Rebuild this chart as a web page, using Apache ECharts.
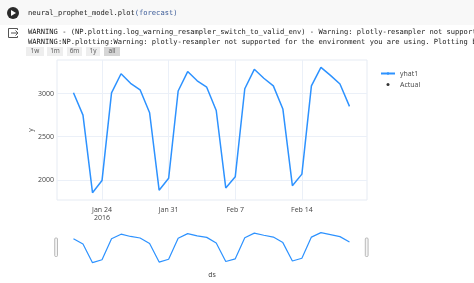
<!DOCTYPE html>
<html><head><meta charset="utf-8">
<script src="https://cdn.jsdelivr.net/npm/echarts@6/dist/echarts.min.js"></script>
<style>html,body{margin:0;padding:0;background:#fff}#c{width:474px;height:283px}</style>
</head><body><div id="c"></div>
<script>
const dates = ['2016-01-21','2016-01-22','2016-01-23','2016-01-24','2016-01-25','2016-01-26','2016-01-27','2016-01-28','2016-01-29','2016-01-30','2016-01-31',
  '2016-02-01','2016-02-02','2016-02-03','2016-02-04','2016-02-05','2016-02-06','2016-02-07','2016-02-08','2016-02-09','2016-02-10','2016-02-11','2016-02-12','2016-02-13','2016-02-14','2016-02-15','2016-02-16','2016-02-17','2016-02-18','2016-02-19'];
const yhat1 = [3010,2750,1852,1992,3008,3230,3119,3044,2778,1881,2018,3030,3255,3148,3074,2804,1907,2037,3056,3281,3178,3089,2822,1933,2067,3089,3304,3211,3111,2852];
const actual = [];
const xTicks = ['2016-01-24','2016-01-31','2016-02-07','2016-02-14'];
const yTicks = [2000,2500,3000];
const xRange = ['2016-01-19 06:30','2016-02-20 20:10'];
const yRange = [1767,3389];
const sliderYRange = [1690,3480];
const buttons = ['1w','1m','6m','1y','all'];

const ts = s => new Date(s.replace(' ', 'T') + (s.length === 10 ? 'T00:00' : '')).getTime();
const months = ['Jan','Feb','Mar','Apr','May','Jun','Jul','Aug','Sep','Oct','Nov','Dec'];
const lineData = dates.map((d,i)=>[ts(d), yhat1[i]]);
const mono = '"DejaVu Sans Mono", "Liberation Mono", monospace';
const sans = '"Open Sans", sans-serif';

const btnX = [26,47,67,86,104], btnW = [18,16,15,14,16];
const graphics = [
  {type:'rect', shape:{x:0,y:0,width:474,height:25}, style:{fill:'#f8f8f8'}, silent:true},
  {type:'circle', shape:{cx:13,cy:13,r:6}, style:{fill:'#2b2b2b'}},
  {type:'polygon', shape:{points:[[11,10],[11,16],[16,13]]}, style:{fill:'#fff'}},
  {type:'text', x:28, y:13, style:{text:'neural_prophet_model.plot{b|(forecast)}', font:'7.1px '+mono, fill:'#1a1a1a', verticalAlign:'middle',
     rich:{b:{fill:'#3b5b98', font:'7.1px '+mono}}}},
  {type:'rect', shape:{x:8.5,y:28.5,width:9,height:9}, style:{fill:'none', stroke:'#555', lineWidth:1}},
  {type:'rect', shape:{x:15,y:30,width:4,height:6}, style:{fill:'#fff'}},
  {type:'polyline', shape:{points:[[11,33],[18,33]]}, style:{stroke:'#555', lineWidth:1}},
  {type:'polyline', shape:{points:[[15.5,30.5],[18,33],[15.5,35.5]]}, style:{stroke:'#555', lineWidth:1, fill:'none'}},
  {type:'text', x:28, y:32, style:{text:"WARNING - (NP.plotting.log_warning_resampler_switch_to_valid_env) - Warning: plotly-resampler not supported for the environment you are using. Plotting backend automatically switched to 'plotly' without resampling", font:'7.1px '+mono, fill:'#1a1a1a', verticalAlign:'middle'}},
  {type:'text', x:28, y:42, style:{text:"WARNING:NP.plotting:Warning: plotly-resampler not supported for the environment you are using. Plotting backend automatically switched to 'plotly' without resampling", font:'7.1px '+mono, fill:'#1a1a1a', verticalAlign:'middle'}},
  {type:'rect', shape:{x:54.7,y:238,width:2.8,height:18.5,r:1}, style:{fill:'#f4f4f4', stroke:'#aaa', lineWidth:0.8}},
  {type:'rect', shape:{x:365.3,y:238,width:2.8,height:18.5,r:1}, style:{fill:'#f4f4f4', stroke:'#aaa', lineWidth:0.8}}
];
buttons.forEach((b,i)=>{
  graphics.push({type:'rect', shape:{x:btnX[i],y:47,width:btnW[i],height:9}, style:{fill: b==='all' ? '#d6d6d6' : '#eeeeee'}});
  graphics.push({type:'text', x:btnX[i]+btnW[i]/2, y:51.5, style:{text:b, font:'6.5px '+sans, fill:'#555', align:'center', verticalAlign:'middle'}});
});

const chart = echarts.init(document.getElementById('c'), null, {renderer:'canvas'});
chart.setOption({
  animation:false,
  backgroundColor:'#fff',
  textStyle:{fontFamily:sans},
  graphic: graphics,
  legend:{orient:'vertical', left:375, top:64, itemWidth:14, itemHeight:3, itemGap:2,
    textStyle:{fontSize:7, color:'#444', lineHeight:9, fontFamily:sans},
    data:[{name:'yhat1'},{name:'Actual', icon:'circle'}]},
  grid:[
    {left:57, right:107, top:60, bottom:77, show:true, borderColor:'#e6ebf3', borderWidth:1, backgroundColor:'#fff'},
    {left:57, right:107, top:229, height:37, show:false}
  ],
  xAxis:[
    {type:'value', gridIndex:0, min:ts(xRange[0]), max:ts(xRange[1]),
     name:'ds', nameLocation:'middle', nameGap:71, nameMoveOverlap:false, nameTextStyle:{fontSize:7, color:'#444'},
     axisLine:{show:false}, axisTick:{show:false, customValues: xTicks.map(ts)},
     axisLabel:{customValues: xTicks.map(ts), fontSize:7, color:'#444', margin:6, lineHeight:8,
       formatter: v => { const d = new Date(v); const s = months[d.getMonth()]+' '+d.getDate(); return d.getDate()===24 && d.getMonth()===0 ? s+'\n'+d.getFullYear() : s; }},
     splitLine:{show:true, lineStyle:{color:'#ebf0f8', width:1}}},
    {type:'value', gridIndex:1, min:ts(xRange[0]), max:ts(xRange[1]), show:false}
  ],
  yAxis:[
    {type:'value', gridIndex:0, min:yRange[0], max:yRange[1],
     name:'y', nameLocation:'middle', nameGap:23, nameMoveOverlap:false, nameTextStyle:{fontSize:7, color:'#444'},
     axisLine:{show:false}, axisTick:{show:false, customValues: yTicks},
     axisLabel:{customValues: yTicks, fontSize:7, color:'#444', margin:3, formatter: v => String(v)},
     splitLine:{show:true, lineStyle:{color:'#ebf0f8', width:1}}},
    {type:'value', gridIndex:1, min:sliderYRange[0], max:sliderYRange[1], show:false}
  ],
  series:[
    {name:'yhat1', type:'line', xAxisIndex:0, yAxisIndex:0, data:lineData, symbol:'none', color:'#2d92ff', lineStyle:{width:1.5, color:'#2d92ff'}},
    {name:'Actual', type:'scatter', xAxisIndex:0, yAxisIndex:0, data:actual, symbolSize:3, itemStyle:{color:'#000'}},
    {name:'yhat1-slider', type:'line', xAxisIndex:1, yAxisIndex:1, data:lineData, symbol:'none', lineStyle:{width:1.2, color:'#2d92ff'}, silent:true}
  ]
});
</script></body></html>
